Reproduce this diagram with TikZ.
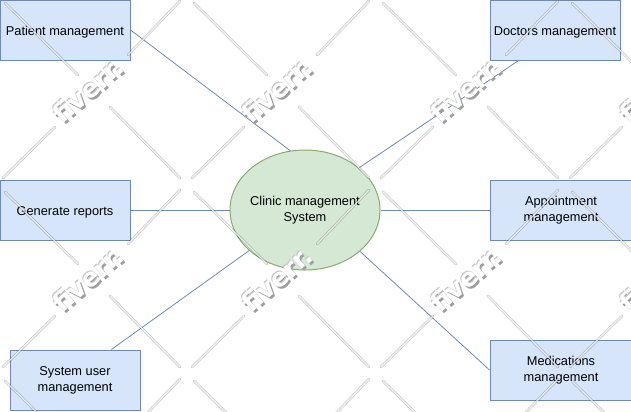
\documentclass[tikz,border=0pt]{standalone}
\usepackage{fontspec}
\setmainfont{Liberation Sans}
\newfontfamily\markfont{DejaVu Sans}
\usetikzlibrary{%
  shapes.geometric%
}
\definecolor{boxfill}{HTML}{D6E5FA}
\definecolor{boxline}{HTML}{6C8AB5}
\definecolor{ovalfill}{HTML}{D5E8D4}
\definecolor{ovalline}{HTML}{86AD70}
\tikzset{
  modulebox/.style={draw=boxline,fill=boxfill,line width=0.75pt,minimum width=97.5pt,minimum height=45pt,inner sep=0pt,align=center,font=\fontsize{9.6}{12}\selectfont,execute at begin node=\rule{0pt}{9.5pt}},
  hub/.style={ellipse,draw=ovalline,fill=ovalfill,line width=0.75pt,minimum width=112.5pt,minimum height=90pt,inner sep=-6pt,align=center,font=\fontsize{9.6}{12}\selectfont,execute at begin node=\rule{0pt}{9.5pt}},
  link/.style={draw=boxline,line width=0.6pt},
  markedge/.style={draw=black,opacity=0.2,line width=2pt,line cap=round},
  markcore/.style={draw=white,opacity=0.75,line width=0.9pt,line cap=round},
  marktext/.style={rotate=41,inner sep=0pt,font=\markfont\bfseries\fontsize{19}{19}\selectfont}
}

\begin{document}
\begin{tikzpicture}[x=0.75pt,y=-0.75pt]
    \useasboundingbox (0,0) rectangle (631,411);
    \clip (0,0) rectangle (631,411);
    \node[hub] (clinic) at (305,210) {Clinic management\\System};
    \node[modulebox] (patient) at (65,30) {Patient management};
    \node[modulebox] (doctors) at (555,30) {Doctors management};
    \node[modulebox] (reports) at (65,210) {Generate reports};
    \node[modulebox,minimum width=106.5pt] (appointment) at (561,210) {Appointment\\management};
    \node[modulebox,minimum width=106.5pt] (medications) at (561,370) {Medications\\management};
    \node[modulebox] (sysuser) at (75,380) {System user\\management};
    \draw[link] (patient.east) -- (clinic.104);
    \draw[link] (doctors.220.6) -- (clinic.38);
    \draw[link] (reports.east) -- (clinic.west);
    \draw[link] (appointment.west) -- (clinic.east);
    \draw[link] (sysuser.40.6) -- (clinic.216);
    \draw[link] (medications.west) -- (clinic.-37);
    \foreach \i in {0,1,2,3} {
      \foreach \j in {0,1,2} {
        \begin{scope}[shift={({\i*189},{\j*189})}]
          \foreach \sx/\sy/\ex/\ey in {5/3/78/75,180/1/128/55,110/107/180/178,55/127/3/178} {
            \draw[markedge] (\sx,\sy) -- (\ex,\ey);
            \draw[markcore] (\sx,\sy) -- (\ex,\ey);
          }
          \node[marktext,text=black!38] (shadea\i\j) at (90,92) {fiverr.};
          \node[marktext,text=black!22] (shadeb\i\j) at (87,89) {fiverr.};
          \node[marktext,text=white] (mark\i\j) at (88,90) {fiverr.};
        \end{scope}
      }
    }
\end{tikzpicture}
\end{document}
